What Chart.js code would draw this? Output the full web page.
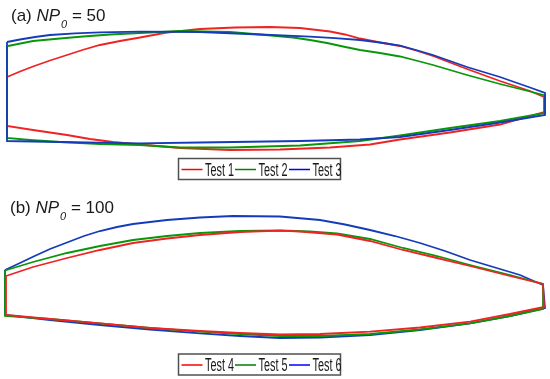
<!DOCTYPE html>
<html>
<head>
<meta charset="utf-8">
<script src="https://cdn.jsdelivr.net/npm/chart.js"></script>
<style>
  body { margin: 0; background: #fff; }
  #wrap { width: 550px; height: 379px; }
</style>
</head>
<body>
<div id="wrap"><canvas id="hullChart"></canvas></div>
<script>
// outlines, [x, y] in figure units (y grows downwards)
const test1 = [[7,77],[20,71.5],[33,66.5],[50,60.5],[67,55],[84,49.5],[100,45],[120,41],[140,37.5],[167,32.5],[200,29],[235,27.5],[270,27],[300,28],[330,31.5],[345,34.5],[360,38.5],[380,42.5],[400,46],[416,50.5],[433,56],[450,62.5],[467,69],[500,81],[530,91],[544,97],[544,112],[500,124.5],[450,132.5],[400,139.5],[370,144.5],[330,147.5],[280,149.5],[230,150],[180,148],[140,144.5],[113,142],[90,139],[67,135],[33,130],[7,126],[7,77]];
const test2 = [[8,46],[33,41],[60,38.5],[83,36.5],[110,34.5],[140,33],[180,31],[230,32],[260,34.5],[293,37.5],[310,40],[327,43],[343,46.5],[360,50],[380,53],[400,56.5],[416,60.5],[433,65],[467,75],[500,84],[530,91.5],[545,95.5],[545,113],[500,121],[450,128],[400,135.5],[360,141],[300,145.5],[230,147.5],[180,147.5],[140,145],[100,144],[60,142],[30,140],[7,138],[7,46]];
const test3 = [[7,42],[20,39.5],[35,37],[50,35],[75,33.3],[100,32.3],[140,31.7],[200,32],[260,34.5],[310,36.7],[335,38.2],[360,40],[380,42.5],[400,45.7],[416,50],[433,55],[450,61],[467,67],[500,77],[530,87.5],[545,93],[545,115],[500,122.5],[450,130],[400,137],[360,139.5],[300,141],[200,142.5],[140,143.3],[60,142],[7,141],[7,42]];
const test4 = [[6,276],[33,267],[67,258],[100,250],[133,243],[167,238.5],[200,235],[240,232],[280,230.7],[300,231.5],[337,234.5],[370,241],[403,250],[437,258],[470,266],[510,276],[543,284],[544,307],[510,314],[470,321.7],[420,327.5],[370,331.7],[320,334],[280,334.5],[240,333],[200,331],[150,328],[100,323.3],[50,319],[6,315],[6,276]];
const test5 = [[5,270.5],[33,262],[67,253],[100,246],[133,240],[167,236],[200,233],[240,231],[280,230.5],[310,231.5],[337,233.5],[370,239],[403,248],[437,256],[470,265],[510,275],[543,284],[543,309],[510,316],[470,323.3],[420,329.5],[370,334],[320,336],[280,336],[240,334],[200,331.7],[150,328],[100,323.3],[50,319],[5,316],[5,270.5]];
const test6 = [[5,270],[20,263],[33,256.7],[50,249],[67,242.5],[84,236],[100,231],[117,227],[133,224],[167,220],[200,217.5],[233,216],[280,216.5],[320,220],[345,224.5],[370,230],[395,236],[420,243],[445,251],[470,260],[495,267.5],[520,275],[543,285],[545,308],[510,316],[470,323.3],[420,330],[370,335],[320,337.5],[280,338],[240,336],[200,333.3],[150,329.5],[100,325],[50,320],[5,315],[5,270]];

const labelsA = ['Test 1', 'Test 2', 'Test 3'];
const labelsB = ['Test 4', 'Test 5', 'Test 6'];
const lineColors = ['rgb(240,35,35)', 'rgb(10,150,10)', 'rgb(20,60,185)'];
const legendColors = ['#ff0000', '#008000', '#0000ff'];

function toPoints(arr) {
    return arr.map(p => ({x: p[0], y: p[1]}));
}

function outline(label, pts, color, order) {
    return {
        label: label,
        data: toPoints(pts),
        showLine: true,
        borderColor: color,
        borderWidth: 1.8,
        pointRadius: 0,
        tension: 0,
        fill: false,
        order: order
    };
}

// panel titles and boxed legends
const panelDecor = {
    id: 'panelDecor',
    afterDraw(chart) {
        const c = chart.ctx;
        const title = (x, base, tag, value) => {
            c.save();
            c.fillStyle = '#1a1a1a';
            c.textBaseline = 'alphabetic';
            c.font = '17px "Liberation Sans", Arial, sans-serif';
            c.fillText(tag + ' ', x, base);
            x += c.measureText(tag + ' ').width;
            c.font = 'italic 17px "Liberation Sans", Arial, sans-serif';
            c.fillText('NP', x, base);
            x += c.measureText('NP').width;
            c.font = 'italic 11px "Liberation Sans", Arial, sans-serif';
            c.fillText('0', x + 1, base + 7);
            x += c.measureText('0').width + 1;
            c.font = '17px "Liberation Sans", Arial, sans-serif';
            c.fillText(' = ' + value, x, base);
            c.restore();
        };
        const legend = (top, labels) => {
            c.save();
            c.strokeStyle = '#505050';
            c.lineWidth = 1.5;
            c.strokeRect(178.5, top, 162, 21);
            const lineY = top + 11;
            const starts = [181.5, 235, 289];
            labels.forEach((lab, i) => {
                c.strokeStyle = legendColors[i];
                c.lineWidth = 1.5;
                c.beginPath();
                c.moveTo(starts[i], lineY);
                c.lineTo(starts[i] + 21, lineY);
                c.stroke();
                c.save();
                c.translate(starts[i] + 23.5, top + 17);
                c.scale(0.62, 1);
                c.fillStyle = '#1a1a1a';
                c.font = '17.5px "Liberation Sans", Arial, sans-serif';
                c.fillText(lab, 0, 0);
                c.restore();
            });
            c.restore();
        };
        title(11, 21, '(a)', '50');
        title(10, 213, '(b)', '100');
        legend(158.5, labelsA);
        legend(354, labelsB);
    }
};

new Chart(document.getElementById('hullChart'), {
    type: 'scatter',
    data: {
        datasets: [
            outline(labelsA[0], test1, lineColors[0], 2),
            outline(labelsA[1], test2, lineColors[1], 1),
            outline(labelsA[2], test3, lineColors[2], 0),
            outline(labelsB[0], test4, lineColors[0], 0),
            outline(labelsB[1], test5, lineColors[1], 1),
            outline(labelsB[2], test6, lineColors[2], 2)
        ]
    },
    options: {
        responsive: true,
        maintainAspectRatio: false,
        animation: false,
        layout: { padding: 0 },
        plugins: {
            legend: { display: false },
            tooltip: { enabled: false }
        },
        scales: {
            x: { type: 'linear', min: 0, max: 550, display: false },
            y: { type: 'linear', min: 0, max: 379, reverse: true, display: false }
        }
    },
    plugins: [panelDecor]
});
</script>
</body>
</html>
